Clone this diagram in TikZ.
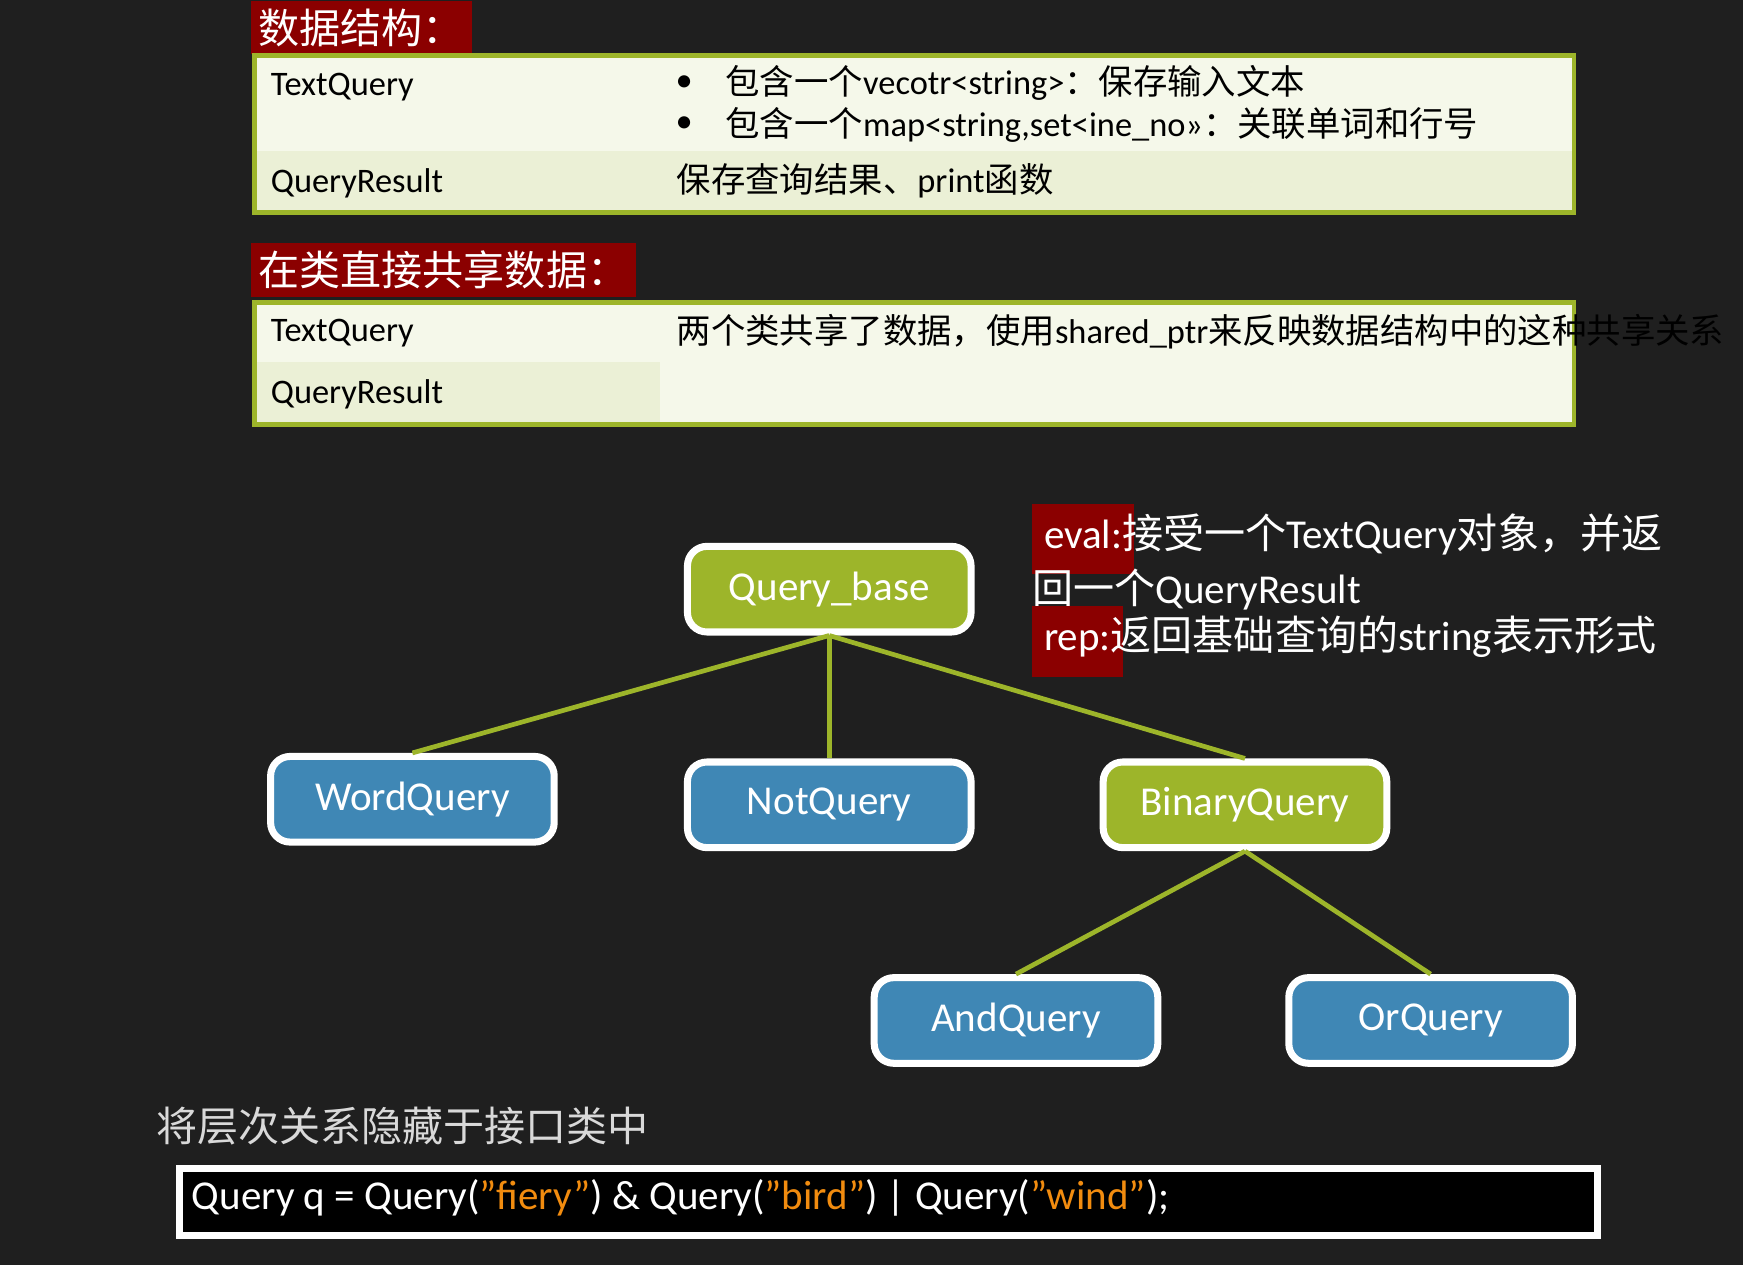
\documentclass[tikz,border=0pt]{standalone}
\usepackage{fontspec}
\setmainfont{Carlito}
\newfontfamily\cjk{Noto Sans CJK SC}
\definecolor{bg}{HTML}{1F1F1F}
\definecolor{olive}{HTML}{9DB52A}
\definecolor{bluen}{HTML}{3F87B5}
\definecolor{dred}{HTML}{8B0000}
\definecolor{rowa}{HTML}{F5F8EA}
\definecolor{rowb}{HTML}{EBF0D6}
\definecolor{orng}{HTML}{F28C0F}
\newcommand{\zh}[1]{{\cjk #1}}
\tikzset{
  treenode/.style={draw=white,line width=1.8pt,rounded corners=5pt,minimum width=2.55cm,minimum height=0.77cm,text=white,font=\fontsize{10.5}{12}\selectfont},
  olivebox/.style={treenode,fill=olive},
  bluebox/.style={treenode,fill=bluen},
  edge/.style={draw=olive,line width=1.2pt},
  cell/.style={anchor=west,text=black,font=\fontsize{8.8}{10.5}\selectfont,inner sep=0pt},
  redlabel/.style={anchor=north west,fill=dred,text=white,inner sep=2pt,font=\fontsize{10.5}{12}\selectfont},
  side/.style={anchor=west,text=white,inner sep=0pt,font=\fontsize{10.5}{12}\selectfont}
}
\begin{document}
\begin{tikzpicture}[x=0.01cm,y=-0.01cm]
\fill[bg] (0,0) rectangle (1568,1138);
\useasboundingbox (0,0) rectangle (1568,1138);
% table 1
\node[redlabel,minimum width=1.9cm,minimum height=0.4cm] (t1) at (225,0) {\zh{数据结构：}};
\fill[rowa] (229,50) rectangle (1416,136);
\fill[rowb] (229,136) rectangle (1416,191);
\draw[olive,line width=1.2pt] (229,50) rectangle (1416,191);
\node[cell] (a1) at (243,78) {TextQuery};
\node[cell] (b1) at (607,75) {•};
\node[cell] (b2) at (607,112) {•};
\node[cell] (c1) at (652,75) {\zh{包含一个}vecotr<string>\zh{：保存输入文本}};
\node[cell] (c2) at (652,112) {\zh{包含一个}map<string,set<ine\_no>>\zh{：关联单词和行号}};
\node[cell] (a2) at (243,165) {QueryResult};
\node[cell] (c3) at (608,163) {\zh{保存查询结果、}print\zh{函数}};
% table 2
\node[redlabel,minimum width=3.45cm,minimum height=0.45cm] (t2) at (225,218) {\zh{在类直接共享数据：}};
\fill[rowa] (229,272) rectangle (1416,382);
\fill[rowb] (229,326) rectangle (594,382);
\draw[olive,line width=1.2pt] (229,272) rectangle (1416,382);
\node[cell] (d1) at (243,300) {TextQuery};
\node[cell] (d2) at (243,355) {QueryResult};
\node[cell,anchor=north west,text width=7.9cm,align=left,font=\fontsize{8.8}{11.2}\selectfont] (d3) at (608,282) {\zh{两个类共享了数据，使用}shared\_ptr\zh{来反映数据结构中的这种共享关系}};
% tree
\node[olivebox] (qb) at (746,530) {Query\_base};
\node[bluebox] (wq) at (371,719) {WordQuery};
\node[bluebox] (nq) at (746,724) {NotQuery};
\node[olivebox] (bq) at (1120,724) {BinaryQuery};
\node[bluebox] (aq) at (914,918) {AndQuery};
\node[bluebox] (oq) at (1287,918) {OrQuery};
\draw[edge] (qb.south) -- (wq.north);
\draw[edge] (qb.south) -- (nq.north);
\draw[edge] (qb.south) -- (bq.north);
\draw[edge] (bq.south) -- (aq.north);
\draw[edge] (bq.south) -- (oq.north);
% side text
\node[side] (s1) at (928,485) {\colorbox{dred}{\strut eval:}\hspace{-\fboxsep}\zh{接受一个}TextQuery\zh{对象，并返}};
\node[side] (s2) at (928,530) {\zh{回一个}QueryResult};
\node[side] (s3) at (928,577) {\colorbox{dred}{\strut rep:}\hspace{-\fboxsep}\zh{返回基础查询的}string\zh{表示形式}};
% bottom
\node[side,text=white!85!black] (h) at (140,1013) {\zh{将层次关系隐藏于接口类中}};
\node[draw=white,fill=black,line width=1.8pt,minimum width=12.75cm,minimum height=0.6cm,anchor=north west] (code) at (158,1048) {};
\node[side] (ct) at (172,1078) {Query q = Query(\textcolor{orng}{"fiery"}) \& Query(\textcolor{orng}{"bird"}) | Query(\textcolor{orng}{"wind"});};
\end{tikzpicture}
\end{document}
